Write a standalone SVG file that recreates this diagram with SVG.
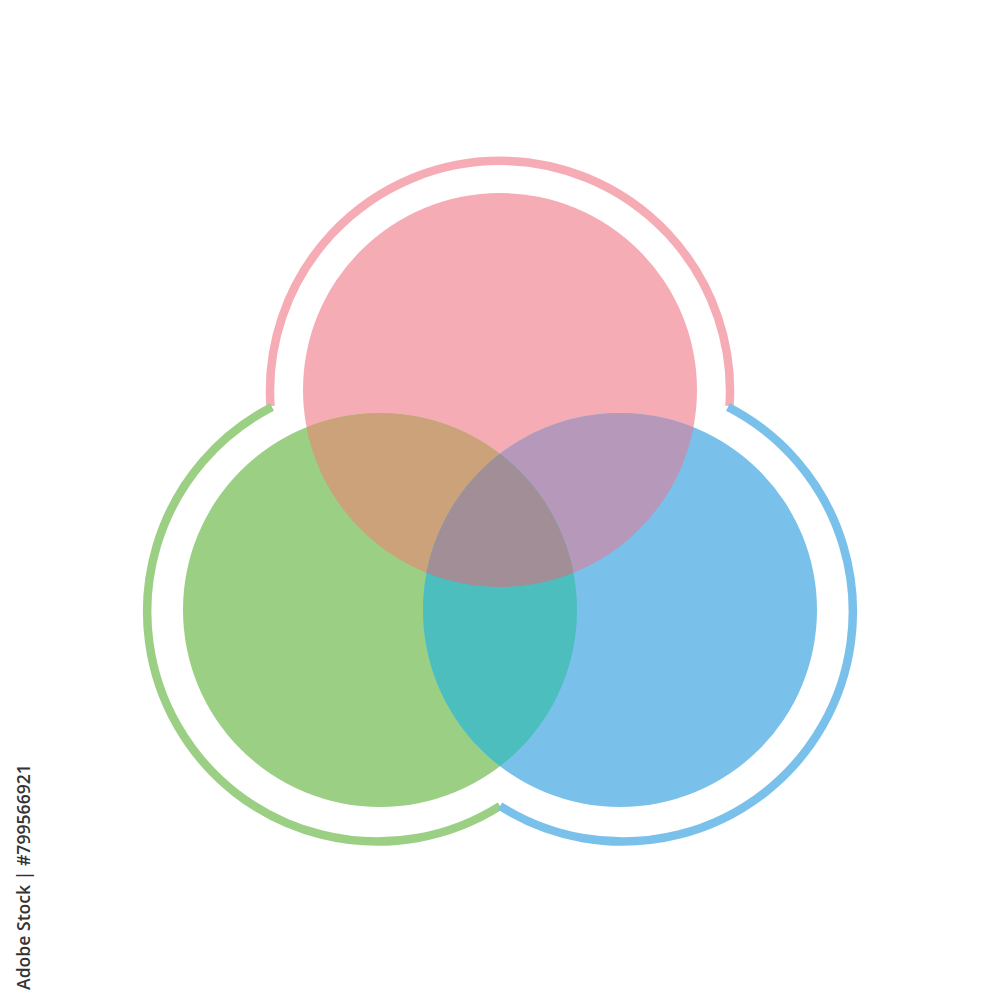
<svg xmlns="http://www.w3.org/2000/svg" width="1000" height="1000" viewBox="0 0 1000 1000">
  <style>
    .ring { fill: none; stroke-width: 8.5; stroke-linecap: butt; }
    .credit { font-family: "Open Sans", "Liberation Sans", sans-serif; font-size: 17.6px; font-weight: 600; fill: #333333; }
  </style>
  <defs>
    <clipPath id="cP"><circle cx="500" cy="390" r="197"/></clipPath>
    <clipPath id="cG"><circle cx="380" cy="610" r="197"/></clipPath>
    <clipPath id="cB"><circle cx="620" cy="610" r="197"/></clipPath>
  </defs>
  <rect width="1000" height="1000" fill="#ffffff"/>

  <g id="connectors">
    <path id="ring-pink" class="ring" stroke="#F6ACB4" d="M 270.5 406 A 230 230 0 1 1 729.5 406"/>
    <path id="ring-green" class="ring" stroke="#9BCF84" d="M 272 407 A 230 230 0 1 0 500 806"/>
    <path id="ring-blue" class="ring" stroke="#79C1EB" d="M 728 407 A 230 230 0 1 1 500 806"/>
  </g>

  <g id="node-pink"><circle cx="500" cy="390" r="197" fill="#F6ACB4"/></g>
  <g id="node-green"><circle cx="380" cy="610" r="197" fill="#9BCF84"/></g>
  <g id="node-blue"><circle cx="620" cy="610" r="197" fill="#79C1EB"/></g>

  <g id="overlaps">
    <g clip-path="url(#cP)"><circle cx="380" cy="610" r="197" fill="#CBA27A"/></g>
    <g clip-path="url(#cP)"><circle cx="620" cy="610" r="197" fill="#B698BA"/></g>
    <g clip-path="url(#cG)"><circle cx="620" cy="610" r="197" fill="#4DBEBE"/></g>
    <g clip-path="url(#cP)"><g clip-path="url(#cG)"><circle cx="620" cy="610" r="197" fill="#A18E96"/></g></g>
  </g>

  <text class="credit" transform="translate(30 990) rotate(-90)">Adobe Stock | #799566921</text>
</svg>
